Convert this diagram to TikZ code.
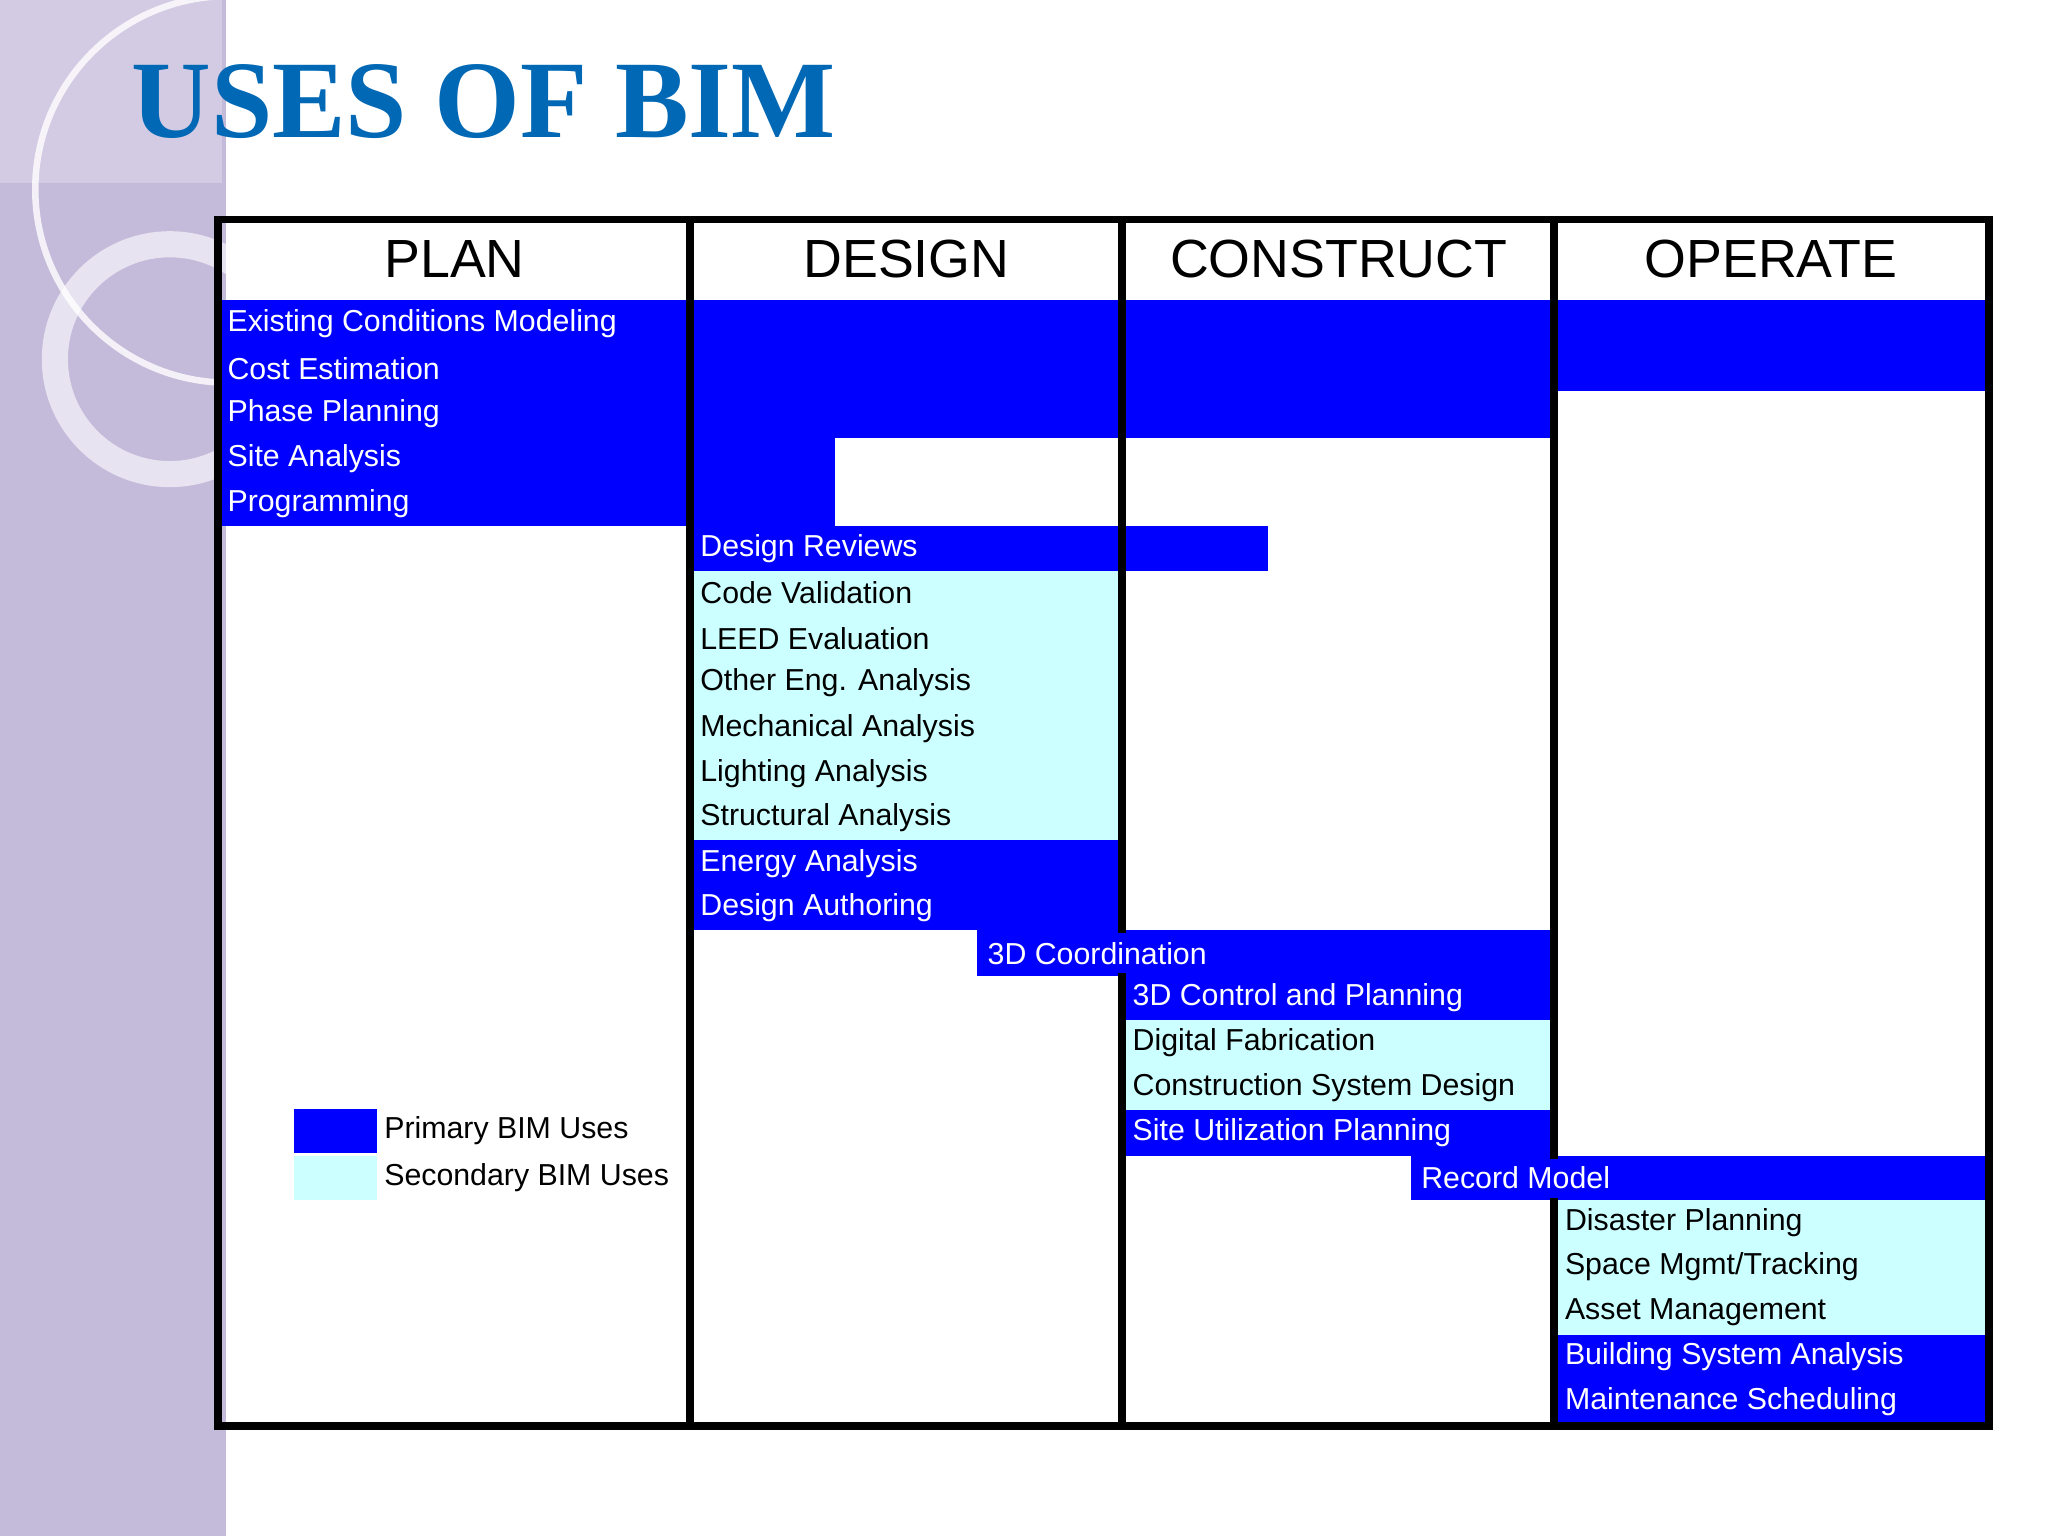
\documentclass[tikz,border=0pt]{standalone}
\usepackage{fontspec}
\setmainfont{Liberation Sans}
\newfontfamily\titlefont{Liberation Serif}
\usetikzlibrary{positioning}
\definecolor{primblue}{RGB}{0,0,255}
\definecolor{secblue}{RGB}{204,255,255}
\definecolor{titleblue}{RGB}{0,104,180}
\definecolor{stripviolet}{RGB}{196,186,218}
\tikzset{
  prim/.style={fill=primblue, draw=none},
  sec/.style={fill=secblue, draw=none},
  usetext/.style={anchor=west, inner sep=1pt, font=\fontsize{6.6}{8}\selectfont},
  primtext/.style={usetext, text=white},
  sectext/.style={usetext, text=black},
  phase/.style={font=\fontsize{11.7}{14}\selectfont}
}
\begin{document}
\begin{tikzpicture}[x=0.01cm, y=-0.01cm]
    \useasboundingbox (0,0) rectangle (1568,1176);
    % side decoration
    \fill[stripviolet] (0,0) rectangle (173,1176);
    \fill[white, opacity=0.25] (0,0) rectangle (170,140);
    \draw[white, line width=0.05cm, opacity=0.8] (175,145) circle (148);
    \draw[white, line width=0.2cm, opacity=0.6] (130,275) circle (88);
    \fill[white] (173,0) rectangle (1568,1176);
    \node[anchor=base west, inner sep=0, text=titleblue,
          font=\titlefont\bfseries\fontsize{24}{28}\selectfont] (title) at (100,105) {USES OF BIM};

    % plan
    \fill[prim] (170,230) rectangle (528,403);
    % design
    \fill[prim] (528,230) rectangle (859,335);
    \fill[prim] (528,335) rectangle (639,403);
    \fill[prim] (528,403) rectangle (971,437);
    \fill[sec]  (528,437) rectangle (859,643);
    \fill[prim] (528,643) rectangle (859,712);
    % construct
    \fill[prim] (859,230) rectangle (1190,335);
    \fill[prim] (748,712) rectangle (1190,747);
    \fill[prim] (859,747) rectangle (1190,781);
    \fill[sec]  (859,781) rectangle (1190,850);
    \fill[prim] (859,850) rectangle (1190,885);
    % operate
    \fill[prim] (1190,230) rectangle (1520,299);
    \fill[prim] (1080,885) rectangle (1520,919);
    \fill[sec]  (1190,919) rectangle (1520,1022);
    \fill[prim] (1190,1022) rectangle (1520,1090);

    % legend
    \fill[prim] (225,849) rectangle (289,883);
    \fill[sec]  (225,885) rectangle (289,919);

    % frame
    \draw[line width=0.06cm] (167,168) rectangle (1523,1092);
    \foreach \xd in {528,859,1190}
      \draw[line width=0.06cm] (\xd,168) -- (\xd,1092);
    % dividers hidden under the bands that span two phases
    \fill[prim] (748,714) rectangle (1000,745);
    \fill[prim] (1080,887) rectangle (1300,917);

    % headers
    \node[phase] (plan)      at (348,198)  {PLAN};
    \node[phase] (design)    at (694,198)  {DESIGN};
    \node[phase] (construct) at (1025,198) {CONSTRUCT};
    \node[phase] (operate)   at (1356,198) {OPERATE};

    % uses
    \node[primtext] (ecm) at (170,248) {Existing Conditions Modeling};
    \node[primtext] (ce)  at (170,282) {Cost Estimation};
    \node[primtext] (pp)  at (170,317) {Phase Planning};
    \node[primtext] (sa)  at (170,351) {Site Analysis};
    \node[primtext] (pr)  at (170,386) {Programming};
    \node[primtext] (dr)  at (532,420) {Design Reviews};
    \node[sectext]  (cv)  at (532,454) {Code Validation};
    \node[sectext]  (le)  at (532,489) {LEED Evaluation};
    \node[sectext]  (oe)  at (532,523) {Other Eng. Analysis};
    \node[sectext]  (ma)  at (532,558) {Mechanical Analysis};
    \node[sectext]  (la)  at (532,592) {Lighting Analysis};
    \node[sectext]  (sta) at (532,626) {Structural Analysis};
    \node[primtext] (ea)  at (532,661) {Energy Analysis};
    \node[primtext] (da)  at (532,695) {Design Authoring};
    \node[primtext] (tdc) at (752,730) {3D Coordination};
    \node[primtext] (tcp) at (863,764) {3D Control and Planning};
    \node[sectext]  (df)  at (863,798) {Digital Fabrication};
    \node[sectext]  (csd) at (863,833) {Construction System Design};
    \node[primtext] (sup) at (863,867) {Site Utilization Planning};
    \node[primtext] (rm)  at (1084,902) {Record Model};
    \node[sectext]  (dp)  at (1194,936) {Disaster Planning};
    \node[sectext]  (smt) at (1194,970) {Space Mgmt/Tracking};
    \node[sectext]  (am)  at (1194,1005) {Asset Management};
    \node[primtext] (bsa) at (1194,1039) {Building System Analysis};
    \node[primtext] (ms)  at (1194,1073) {Maintenance Scheduling};
    \node[sectext] (lprim) at (290,866) {Primary BIM Uses};
    \node[sectext] (lsec)  at (290,902) {Secondary BIM Uses};
\end{tikzpicture}
\end{document}
